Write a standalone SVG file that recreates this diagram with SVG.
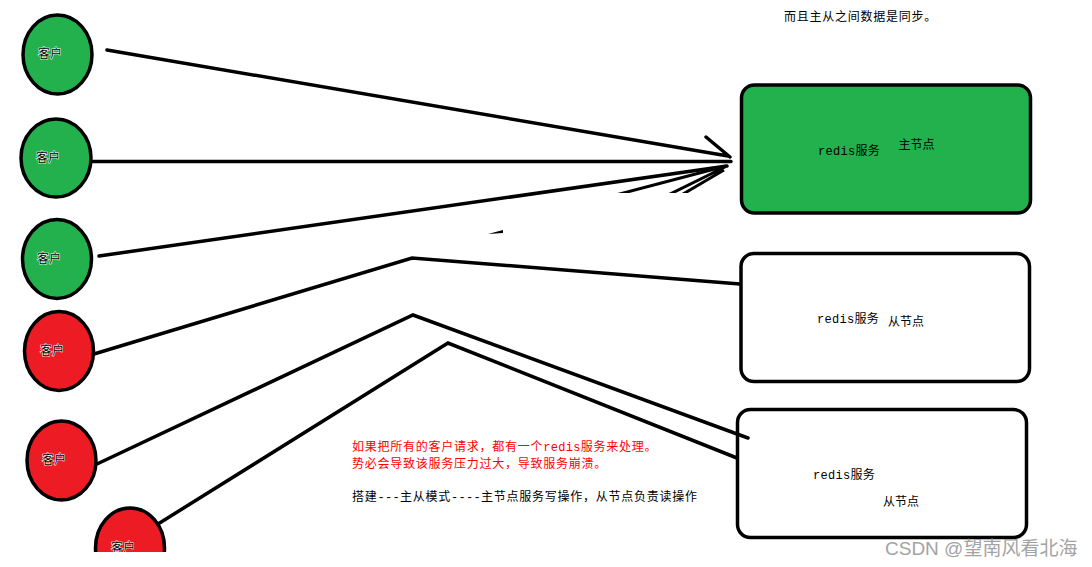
<svg xmlns="http://www.w3.org/2000/svg" width="1092" height="567" viewBox="0 0 1092 567">
<style>
text{font-family:"Noto Sans CJK SC","Liberation Mono",sans-serif;font-size:12px;fill:#000}
.r{font-family:"Liberation Mono","Noto Sans CJK SC",monospace;letter-spacing:.3px}
.w{stroke:#fff;stroke-width:1px;paint-order:stroke}
.s{letter-spacing:.75px}
.red{fill:#f00}
.c{stroke:#000;stroke-width:3.500}
.g{fill:#22b14c}
.e{fill:#ed1c24}
.l{fill:none;stroke:#000;stroke-width:3.500;stroke-linecap:round}
.n{stroke:#000;stroke-width:3.500;fill:#fff}
</style>
<defs>
<clipPath id="cut"><rect x="0" y="0" width="1092" height="552"/></clipPath>
<clipPath id="cut2"><rect x="500" y="130" width="300" height="63"/></clipPath>
</defs>
<rect width="1092" height="567" fill="#fff"/>
<g id="client1"><ellipse class="c g" cx="57.500" cy="54.500" rx="34.500" ry="39.500"/><text class="w" x="38" y="58">客户</text></g>
<g id="client2"><ellipse class="c g" cx="56" cy="158" rx="35" ry="39"/><text class="w" x="36" y="162">客户</text></g>
<g id="client3"><ellipse class="c g" cx="57" cy="259" rx="34.500" ry="39.500"/><text class="w" x="37" y="263">客户</text></g>
<g id="client4"><ellipse class="c e" cx="59" cy="351" rx="34.500" ry="39.500"/><text class="w" x="40" y="355">客户</text></g>
<g id="client5"><ellipse class="c e" cx="61.500" cy="460.500" rx="34.500" ry="39.500"/><text class="w" x="42" y="464">客户</text></g>
<g id="client6" clip-path="url(#cut)"><ellipse class="c e" cx="130" cy="548" rx="34.500" ry="40"/><text class="w" x="111" y="552">客户</text></g>
<g id="master"><rect x="741.500" y="85" width="289" height="128" rx="13" class="n" style="fill:#22b14c"/><text class="r" x="818" y="155">redis服务</text><text x="898.500" y="149">主节点</text></g>
<g id="slave1"><rect x="741" y="253.500" width="288.500" height="128" rx="13" class="n"/><text class="r" x="817" y="323">redis服务</text><text x="888" y="326">从节点</text></g>
<g id="slave2"><rect x="737.500" y="409.500" width="289" height="128" rx="13" class="n"/><text class="r" x="813" y="479">redis服务</text><text x="883" y="506">从节点</text></g>
<g id="connectors">
<path class="l" d="M107 50L728 156M706 137L730 157M92 161.500H731M99 256L727 166"/>
<path class="l" clip-path="url(#cut2)" style="stroke-width:3;stroke-linecap:butt" d="M612 196L726 166M660 199L725 167M678 197L724 170"/>
<path d="M488 234L503 230L503 233Z" fill="#000"/>
<path class="l" d="M94 354L412 258L740 284M97 464L413 315L748 438M158 524L448 343L737 458"/>
</g>
<g id="notes">
<text class="s" x="784" y="21">而且主从之间数据是同步。</text>
<text class="red s" x="352" y="451">如果把所有的客户请求，都有一个<tspan class="r red">redis</tspan>服务来处理。</text>
<text class="red s" x="352" y="468">势必会导致该服务压力过大，导致服务崩溃。</text>
<text class="s" x="352" y="501">搭建<tspan class="r">---</tspan>主从模式<tspan class="r">----</tspan>主节点服务写操作，从节点负责读操作</text>
<text x="885" y="555" style="font-size:19px;fill:#a3a3a3;font-family:'Liberation Sans','Noto Sans CJK SC',sans-serif">CSDN @望南风看北海</text>
</g>
</svg>
